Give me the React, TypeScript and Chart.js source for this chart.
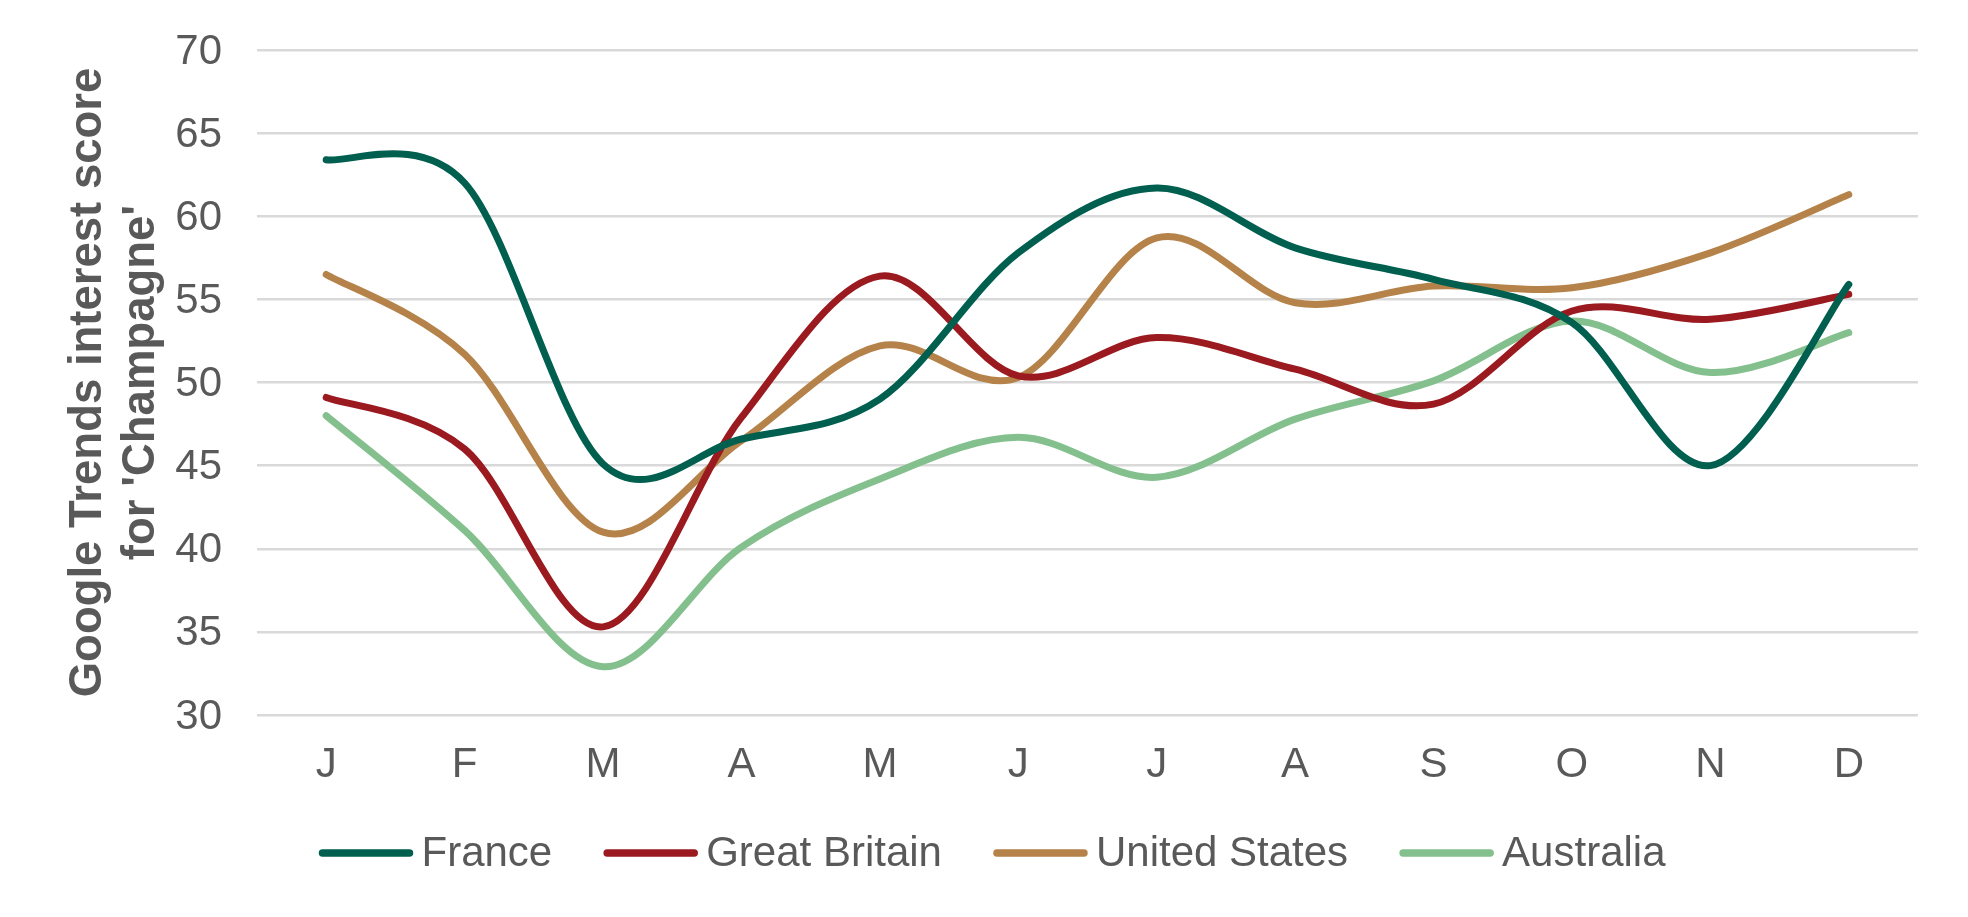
import React, { useEffect, useRef } from 'react';
import { Chart, registerables } from 'chart.js';

Chart.register(...registerables);

const FONT = "'Liberation Sans', Arial, sans-serif";
const TEXT_COLOR = '#595959';

const months = ['J', 'F', 'M', 'A', 'M', 'J', 'J', 'A', 'S', 'O', 'N', 'D'];
const france = [63.4, 62.0, 45.1, 46.6, 49.0, 57.8, 61.7, 58.1, 56.2, 53.6, 45.0, 55.9];
const greatBritain = [49.1, 46.0, 35.3, 47.9, 56.4, 50.4, 52.7, 50.8, 48.7, 54.3, 53.8, 55.3];
const unitedStates = [56.5, 51.7, 41.0, 46.5, 52.2, 50.3, 58.7, 54.8, 55.8, 55.7, 57.8, 61.3];
const australia = [48.0, 41.1, 32.9, 40.1, 44.2, 46.7, 44.3, 47.8, 50.1, 53.7, 50.6, 53.0];

const seriesNames = ['France', 'Great Britain', 'United States', 'Australia'];
const seriesColors = ['#005F4E', '#9B1A20', '#B5834A', '#83C08D'];
const seriesValues = [france, greatBritain, unitedStates, australia];

const yMin = 30;
const yMax = 70;
const yStep = 5;
const yAxisTitle = ['Google Trends interest score', "for 'Champagne'"];

// Excel-like smoothing: control points at +/- 1/6 of neighbour difference
const excelSmooth = {
  id: 'excelSmooth',
  beforeDatasetDraw(chart: any, args: any) {
    const meta = args.meta;
    const line = meta.dataset;
    const pts = meta.data;
    if (!line || !pts || !pts.length) return;
    if (typeof line.updateControlPoints === 'function') {
      line.updateControlPoints(chart.chartArea, 'x');
    }
    const n = pts.length;
    for (let i = 0; i < n; i++) {
      const p = pts[i];
      const prev = pts[Math.max(0, i - 1)];
      const next = pts[Math.min(n - 1, i + 1)];
      const dx = (next.x - prev.x) / 6;
      const dy = (next.y - prev.y) / 6;
      p.cp1x = p.x - dx;
      p.cp1y = p.y - dy;
      p.cp2x = p.x + dx;
      p.cp2y = p.y + dy;
    }
    line._path = undefined;
  },
};

const customLegend = {
  id: 'customLegend',
  afterDraw(chart: any) {
    const ctx = chart.ctx as CanvasRenderingContext2D;
    ctx.save();
    ctx.font = `42px ${FONT}`;
    const lineLen = 95;
    const gapText = 8;
    const gapItem = 51;
    const widths = seriesNames.map((n) => ctx.measureText(n).width);
    const total =
      widths.reduce((a, w) => a + lineLen + gapText + w, 0) + gapItem * (seriesNames.length - 1);
    let x = chart.width / 2 + 8 - total / 2;
    const yLine = 853;
    const yText = 866;
    seriesNames.forEach((name, i) => {
      ctx.strokeStyle = seriesColors[i];
      ctx.lineWidth = 7.5;
      ctx.lineCap = 'round';
      ctx.beginPath();
      ctx.moveTo(x + 4, yLine);
      ctx.lineTo(x + lineLen - 4, yLine);
      ctx.stroke();
      ctx.fillStyle = TEXT_COLOR;
      ctx.textAlign = 'left';
      ctx.textBaseline = 'alphabetic';
      ctx.fillText(name, x + lineLen + gapText, yText);
      x += lineLen + gapText + widths[i] + gapItem;
    });
    ctx.restore();
  },
};

export default function App() {
  const canvasRef = useRef<HTMLCanvasElement | null>(null);

  useEffect(() => {
    const canvas = canvasRef.current;
    if (!canvas) return;
    const chart = new Chart(canvas, {
      type: 'line',
      data: {
        labels: months,
        datasets: seriesNames.map((name, i) => ({
          label: name,
          data: seriesValues[i],
          borderColor: seriesColors[i],
          backgroundColor: seriesColors[i],
          borderWidth: 7,
          borderCapStyle: 'round' as const,
          borderJoinStyle: 'round' as const,
          pointRadius: 0,
          pointHoverRadius: 0,
          tension: 0.4,
          fill: false,
        })),
      },
      options: {
        responsive: false,
        devicePixelRatio: 1,
        animation: false,
        layout: { padding: { left: 0, right: 50, top: 50, bottom: 120 } },
        plugins: {
          legend: { display: false },
          tooltip: { enabled: false },
        },
        elements: { line: { capBezierPoints: false } },
        scales: {
          x: {
            type: 'category',
            offset: true,
            grid: { display: false, drawTicks: false },
            border: { display: false },
            ticks: {
              padding: 25,
              color: TEXT_COLOR,
              font: { family: FONT, size: 42 },
              maxRotation: 0,
              autoSkip: false,
            },
            afterFit: (scale: any) => {
              scale.height = 82;
              scale.paddingLeft = 0;
              scale.paddingRight = 0;
            },
          },
          y: {
            min: yMin,
            max: yMax,
            grid: { color: '#D9D9D9', lineWidth: 2.5, drawTicks: false },
            border: { display: false },
            ticks: {
              stepSize: yStep,
              padding: 35,
              labelOffset: 2,
              color: TEXT_COLOR,
              font: { family: FONT, size: 42 },
            },
            title: {
              display: true,
              text: yAxisTitle,
              color: TEXT_COLOR,
              font: { family: FONT, size: 45.5, weight: 'bold', lineHeight: 1.17 },
              padding: { top: 61.5, bottom: 0 },
            },
            afterFit: (scale: any) => {
              scale.width = 257;
              scale.paddingTop = 0;
              scale.paddingBottom = 0;
            },
          },
        },
      },
      plugins: [excelSmooth, customLegend],
    } as any);
    return () => chart.destroy();
  }, []);

  return (
    <div style={{ position: 'absolute', left: 0, top: 0, width: 1968, height: 917, background: '#fff' }}>
      <canvas ref={canvasRef} width={1968} height={917} style={{ display: 'block' }} />
    </div>
  );
}
